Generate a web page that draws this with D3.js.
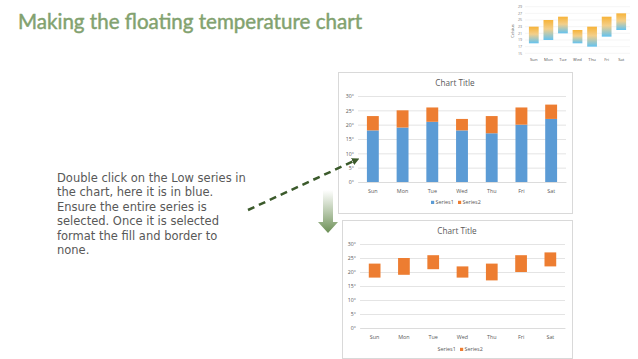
<!DOCTYPE html>
<html>
<head>
<meta charset="utf-8">
<script src="https://cdn.jsdelivr.net/npm/d3@7"></script>
<style>
  body { margin: 0; background: #fff; }
  svg { display: block; }
</style>
</head>
<body>
<svg id="slide" width="638" height="359"></svg>
<script>
const days = ["Sun", "Mon", "Tue", "Wed", "Thu", "Fri", "Sat"]
const lows = [18, 19, 21, 18, 17, 20, 22]
const ranges = [5, 6, 5, 4, 6, 6, 5]
const yTicks = [0, 5, 10, 15, 20, 25, 30]
const thumbTicks = [15, 17, 19, 21, 23, 25, 27, 29]
const seriesNames = ["Series1", "Series2"]
const bodyLines = [
    "Double click on the Low series in",
    "the chart, here it is in blue.",
    "Ensure the entire series is",
    "selected. Once it is selected",
    "format the fill and border to",
    "none."
]

const blue = "#5b9bd5"
const orange = "#ed7d31"
const gridColor = "#d9d9d9"
const labelColor = "#595959"
const chartFont = "'Open Sans', 'Liberation Sans', sans-serif"

const svg = d3.select("#slide")

const defs = svg.append("defs")

// slide title
svg.append("text")
    .attr("x", 18)
    .attr("y", 29)
    .attr("fill", "#82a26f")
    .attr("stroke", "#82a26f")
    .attr("stroke-width", 0.45)
    .attr("font-family", "Lato, 'Open Sans', sans-serif")
    .attr("font-size", 20.5)
    .attr("textLength", 344)
    .attr("lengthAdjust", "spacingAndGlyphs")
    .text("Making the floating temperature chart")

// body text
svg.append("g")
    .selectAll("text")
    .data(bodyLines)
    .join("text")
    .attr("x", 57)
    .attr("y", (d, i) => 182 + i * 14.4)
    .attr("fill", "#585858")
    .attr("font-family", "'DejaVu Sans', sans-serif")
    .attr("font-size", 11.5)
    .text((d) => d)

// small floating chart thumbnail
const drawThumb = () => {
    const g = svg.append("g")
    const x = d3.scaleBand().domain(days).range([526, 629]).paddingInner(0.33).paddingOuter(0.2)
    const y = d3.scaleLinear().domain([15, 29]).range([53.3, 6.7])

    const grad = defs.append("linearGradient")
        .attr("id", "thumbGrad")
        .attr("x1", 0).attr("y1", 0).attr("x2", 0).attr("y2", 1)
    grad.append("stop").attr("offset", "0%").attr("stop-color", "#f7b338")
    grad.append("stop").attr("offset", "45%").attr("stop-color", "#f3cf8a")
    grad.append("stop").attr("offset", "100%").attr("stop-color", "#62c2f0")

    g.append("g")
        .selectAll("line")
        .data(thumbTicks)
        .join("line")
        .attr("x1", 525).attr("x2", 630)
        .attr("y1", (d) => y(d)).attr("y2", (d) => y(d))
        .attr("stroke", "#eeeeee")
        .attr("stroke-width", 0.6)

    g.append("g")
        .selectAll("text")
        .data(thumbTicks)
        .join("text")
        .attr("x", 522)
        .attr("y", (d) => y(d) + 1.2)
        .attr("text-anchor", "end")
        .attr("font-family", chartFont)
        .attr("font-size", 3.6)
        .attr("fill", "#777")
        .text((d) => d)

    g.append("g")
        .selectAll("rect")
        .data(days)
        .join("rect")
        .attr("x", (d) => x(d))
        .attr("width", x.bandwidth())
        .attr("y", (d, i) => y(lows[i] + ranges[i]))
        .attr("height", (d, i) => y(lows[i]) - y(lows[i] + ranges[i]))
        .attr("fill", "url(#thumbGrad)")

    g.append("g")
        .selectAll("text")
        .data(days)
        .join("text")
        .attr("x", (d) => x(d) + x.bandwidth() / 2)
        .attr("y", 61)
        .attr("text-anchor", "middle")
        .attr("font-family", chartFont)
        .attr("font-size", 4.2)
        .attr("fill", "#555")
        .text((d) => d)

    g.append("text")
        .attr("transform", "translate(514,31) rotate(-90)")
        .attr("text-anchor", "middle")
        .attr("font-family", chartFont)
        .attr("font-size", 4.2)
        .attr("fill", "#666")
        .text("Celsius")
}
drawThumb()

// excel-style stacked chart panel
const drawPanel = (opts) => {
    const g = svg.append("g")

    g.append("rect")
        .attr("x", opts.box[0] + 0.5)
        .attr("y", opts.box[1] + 0.5)
        .attr("width", opts.box[2] - opts.box[0])
        .attr("height", opts.box[3] - opts.box[1])
        .attr("fill", "#fff")
        .attr("stroke", "#d9d9d9")
        .attr("stroke-width", 1)

    const x = d3.scaleBand().domain(days).range([opts.left, opts.right]).paddingInner(0.6).paddingOuter(0.3)
    const y = d3.scaleLinear().domain([0, 30]).range([opts.bottom, opts.top])

    g.append("text")
        .attr("x", (opts.box[0] + opts.box[2]) / 2)
        .attr("y", opts.titleY)
        .attr("text-anchor", "middle")
        .attr("font-family", chartFont)
        .attr("font-size", 8.2)
        .attr("fill", labelColor)
        .text("Chart Title")

    const yAxis = g.append("g")
        .attr("transform", `translate(${opts.left},0)`)
        .call(d3.axisLeft(y).tickValues(yTicks).tickSize(-(opts.right - opts.left)).tickPadding(4).tickFormat((d) => d + "°"))
    yAxis.select(".domain").remove()
    yAxis.selectAll(".tick line").attr("stroke", gridColor).attr("stroke-width", 0.7)
    yAxis.selectAll(".tick text")
        .attr("font-family", chartFont)
        .attr("font-size", 5.2)
        .attr("fill", labelColor)

    const stacked = d3.stack().keys([0, 1]).value((d, k) => (k === 0 ? lows[d] : ranges[d]))(d3.range(days.length))
    const fills = [opts.showLow ? blue : "none", orange]

    g.append("g")
        .selectAll("g")
        .data(stacked)
        .join("g")
        .attr("fill", (d) => fills[d.key])
        .selectAll("rect")
        .data((d) => d)
        .join("rect")
        .attr("x", (d) => x(days[d.data]))
        .attr("width", x.bandwidth())
        .attr("y", (d) => y(d[1]))
        .attr("height", (d) => y(d[0]) - y(d[1]))

    const xAxis = g.append("g")
        .attr("transform", `translate(0,${opts.bottom})`)
        .call(d3.axisBottom(x).tickSize(0).tickPadding(7))
    xAxis.select(".domain").attr("stroke", gridColor).attr("stroke-width", 0.8)
    xAxis.selectAll(".tick text")
        .attr("font-family", chartFont)
        .attr("font-size", 5.4)
        .attr("fill", labelColor)

    // legend
    const legend = g.append("g")
        .attr("transform", `translate(${opts.legendX},${opts.legendY})`)
    const item = legend.selectAll("g")
        .data(seriesNames)
        .join("g")
        .attr("transform", (d, i) => `translate(${i * 27},0)`)
    item.append("rect")
        .attr("x", 0).attr("y", -3.2)
        .attr("width", 3.2).attr("height", 3.2)
        .attr("fill", (d, i) => (i === 0 && !opts.showLow ? "none" : [blue, orange][i]))
    item.append("text")
        .attr("x", 4.5)
        .attr("y", 0)
        .attr("font-family", chartFont)
        .attr("font-size", 5.4)
        .attr("fill", labelColor)
        .text((d) => d)
}

drawPanel({
    box: [338, 72, 572, 213],
    left: 358, right: 566, top: 96, bottom: 182,
    titleY: 86, legendX: 431, legendY: 204, showLow: true
})

drawPanel({
    box: [342, 220, 572, 358],
    left: 360, right: 565, top: 244, bottom: 328,
    titleY: 234, legendX: 433, legendY: 351, showLow: false
})

// dashed pointer arrow
const arrowColor = "#3b5a2b"
defs.append("marker")
    .attr("id", "head")
    .attr("viewBox", "0 0 10 10")
    .attr("refX", 5).attr("refY", 5)
    .attr("markerWidth", 3).attr("markerHeight", 3)
    .attr("orient", "auto")
    .append("path")
    .attr("d", "M0,0L10,5L0,10Z")
    .attr("fill", arrowColor)

svg.append("line")
    .attr("x1", 248).attr("y1", 210)
    .attr("x2", 356).attr("y2", 160)
    .attr("stroke", arrowColor)
    .attr("stroke-width", 2.5)
    .attr("stroke-dasharray", "7,5")
    .attr("marker-end", "url(#head)")

// down arrow with fading gradient
const downGrad = defs.append("linearGradient")
    .attr("id", "downGrad")
    .attr("x1", 0).attr("y1", 0).attr("x2", 0).attr("y2", 1)
downGrad.append("stop").attr("offset", "0%").attr("stop-color", "#7a9a64").attr("stop-opacity", 0)
downGrad.append("stop").attr("offset", "100%").attr("stop-color", "#6b8f55").attr("stop-opacity", 1)

svg.append("path")
    .attr("d", "M323,190L333,190L333,222L338,222L328,233L318,222L323,222Z")
    .attr("fill", "url(#downGrad)")
</script>
</body>
</html>
